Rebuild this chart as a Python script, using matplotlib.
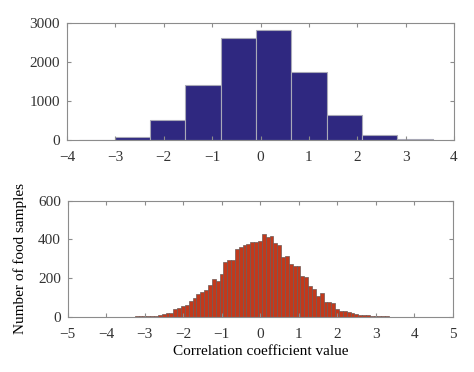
import numpy as np
import matplotlib
matplotlib.use("Agg")
import matplotlib.pyplot as plt

# top histogram: 10 bins
top_edges = [-3.745, -3.015, -2.284, -1.553, -0.822, -0.092, 0.639, 1.370, 2.100, 2.831, 3.562]
top_counts = [10, 77, 511, 1415, 2608, 2813, 1747, 631, 136, 17]

# bottom histogram: 0.1 wide bins, left edges from -3.96
bot_start = -3.96
bot_width = 0.1
bot_counts = [
    1, 1, 2, 2, 1, 1, 2, 3, 4, 4,                 # -3.96 .. -3.06
    5, 6, 7, 8, 14, 19, 19, 40, 45, 58,           # -2.96 .. -2.06
    62, 84, 96, 117, 128, 140, 165, 196, 186, 220, # -1.96 .. -1.06
    282, 296, 296, 351, 360, 370, 375, 385, 385, 394, # -0.96 .. -0.06
    428, 411, 416, 384, 371, 311, 316, 273, 265, 265, # 0.04 .. 0.94
    211, 208, 160, 143, 108, 125, 79, 76, 71, 43,     # 1.04 .. 1.94
    33, 31, 27, 22, 17, 8, 12, 8, 5, 5,              # 2.04 .. 2.94
    4, 3, 3, 2, 2, 1, 1, 1, 1, 0,                    # 3.04 .. 3.94
    1, 0, 1,                                          # 4.04 ..
]
bot_edges = bot_start + bot_width * np.arange(len(bot_counts) + 1)

top_xticks = [-4, -3, -2, -1, 0, 1, 2, 3, 4]
top_yticks = [0, 1000, 2000, 3000]
bot_xticks = [-5, -4, -3, -2, -1, 0, 1, 2, 3, 4, 5]
bot_yticks = [0, 200, 400, 600]

plt.rcParams["font.family"] = ["Liberation Serif", "DejaVu Serif"]
plt.rcParams["font.size"] = 11

fig = plt.figure(figsize=(4.74, 3.72), dpi=100)
W, H = 474, 372
ax1 = fig.add_axes([67 / W, 1 - 140 / H, (454 - 67) / W, (140 - 23) / H])
ax2 = fig.add_axes([67.7 / W, 1 - 317 / H, (453 - 67.7) / W, (317 - 200.7) / H])

centers_top = 0.5 * (np.array(top_edges[:-1]) + np.array(top_edges[1:]))
ax1.hist(centers_top, bins=top_edges, weights=top_counts,
         color="#2f2880", edgecolor="#a9a9b8", linewidth=0.8)
ax1.set_xlim(-4, 4)
ax1.set_ylim(0, 3000)
ax1.set_xticks(top_xticks)
ax1.set_yticks(top_yticks)

centers_bot = bot_edges[:-1] + bot_width / 2
ax2.hist(centers_bot, bins=bot_edges, weights=bot_counts,
         color="#c2391c", edgecolor="#6e5a55", linewidth=0.5)
ax2.set_xlim(-5, 5)
ax2.set_ylim(0, 600)
ax2.set_xticks(bot_xticks)
ax2.set_yticks(bot_yticks)
ax2.set_xlabel("Correlation coefficient value", labelpad=3)
ax2.set_ylabel("Number of food samples", labelpad=8)

for ax in (ax1, ax2):
    for s in ax.spines.values():
        s.set_color("#8c8c8c")
        s.set_linewidth(0.8)
    ax.tick_params(direction="in", top=True, right=True, length=3,
                   color="#8c8c8c", labelcolor="#333333")
    ax.tick_params(axis="x", pad=8)
    ax.tick_params(axis="y", pad=5)
    ax.set_xticklabels([str(t).replace("-", "\u2212") for t in ax.get_xticks().astype(int)])

fig.savefig("out.png", dpi=100)
